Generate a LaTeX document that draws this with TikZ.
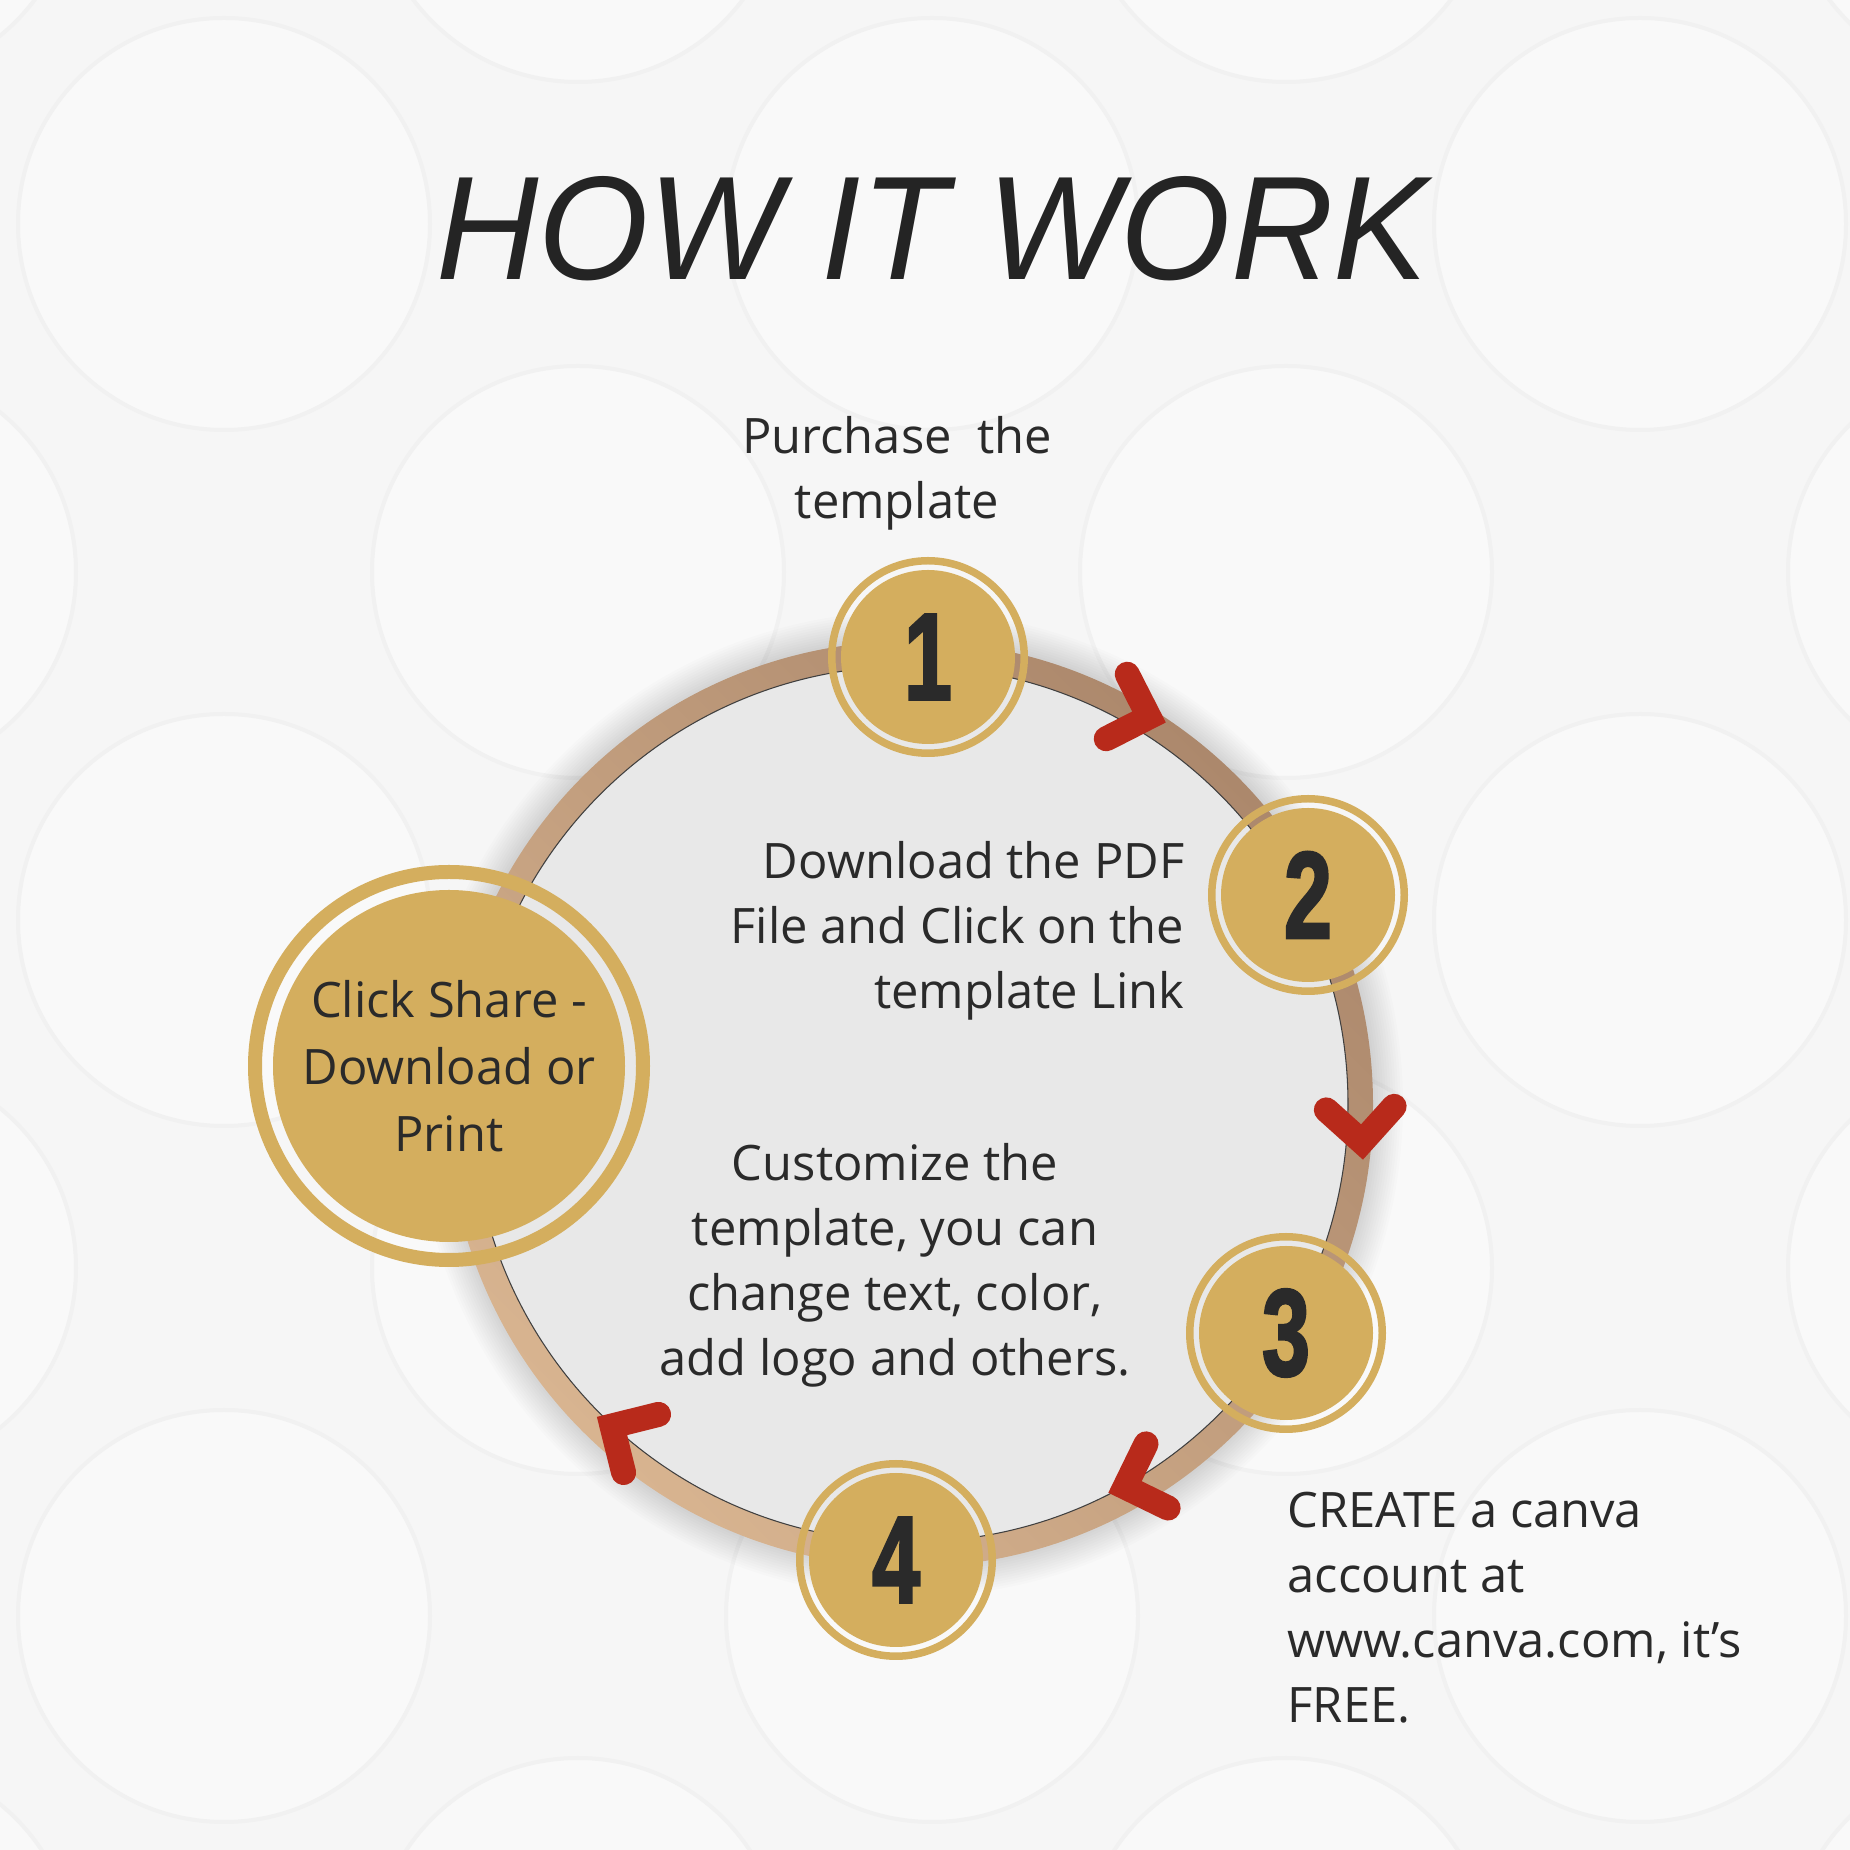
\documentclass[tikz,border=0pt]{standalone}
\usepackage{fontspec}
\setmainfont{Open Sans}
\newfontfamily\titlefont{Liberation Sans}
\newfontfamily\numfont{Liberation Sans Bold}[FakeBold=2.5]
\usepackage{graphicx}
\usetikzlibrary{calc, positioning}
\definecolor{gold1}{RGB}{212,174,94}
\definecolor{ring1}{RGB}{172,136,108}
\definecolor{ring2}{RGB}{216,180,144}
\definecolor{red1}{RGB}{184,42,27}
\definecolor{disk1}{RGB}{232,232,232}
\definecolor{ink1}{RGB}{42,42,42}
\definecolor{title1}{RGB}{36,36,36}
\definecolor{bg1}{RGB}{246,246,246}
\definecolor{bg2}{RGB}{249,249,249}
\definecolor{bg3}{RGB}{241,241,241}

\begin{document}
\begin{tikzpicture}[
    bgdimple/.style={fill=bg2, draw=bg3, line width=0.04cm},
    ringshadow/.style={black, opacity=0.012},
    chevron/.style={draw=red1, line width=0.25cm, line cap=round, line join=miter},
    stepdisk/.style={circle, fill=gold1, minimum size=1.74cm, inner sep=0pt, text=ink1, font=\numfont\fontsize{35}{35}\selectfont},
    stepband/.style={draw=gold1, line width=0.075cm},
    sharedisk/.style={circle, fill=gold1, minimum size=3.52cm, inner sep=0pt, align=center, text=ink1, font=\fontsize{13.9}{19}\selectfont},
    shareband/.style={draw=gold1, line width=0.14cm},
    bodytext/.style={inner sep=0pt, text=ink1, font=\fontsize{13.9}{18.5}\selectfont},
    titletext/.style={inner sep=0pt, text=title1, anchor=base, font=\titlefont\itshape\fontsize{42}{42}\selectfont}
]
        \useasboundingbox (0,0) rectangle (18.5,18.5);

        % background with soft dimples
        \begin{scope}
        \clip (0,0) rectangle (18.5,18.5);
        \fill[bg1] (0,0) rectangle (18.5,18.5);
        \foreach \y in {16.26, 9.30, 2.34}
            \foreach \x in {2.24, 9.32, 16.40}
                \filldraw[bgdimple] (\x,\y) circle (2.06);
        \foreach \y in {19.74, 12.78, 5.82, -1.14}
            \foreach \x in {-1.30, 5.78, 12.86, 19.94}
                \filldraw[bgdimple] (\x,\y) circle (2.06);
        \end{scope}

        \node[titletext, name=title] at(9.32,15.70) {\scalebox{0.96}[1]{HOW IT WORK}};

        % the ring
        \coordinate (ctr) at (9.10,7.46);
        \foreach \k in {1,...,12}
            \draw[ringshadow, line width=\k*0.05cm] (ctr) circle (4.63);
        \fill[disk1] (ctr) circle (4.40);
        \shade[even odd rule, top color=ring1, bottom color=ring2, shading angle=-45] (ctr) circle (4.63) (ctr) circle (4.38);
        \draw[gray!50!black, line width=0.3pt] (ctr) circle (4.38);

        \foreach \cx/\cy/\ang in {11.49/11.33/72, 13.62/7.08/3, 11.25/3.63/-71, 6.12/4.24/239}
            \draw[chevron] ($(\cx,\cy)+({\ang+45}:0.48)$) -- (\cx,\cy) -- ($(\cx,\cy)+({\ang+135}:0.48)$);

        % steps
        \node[stepdisk, name=one] at(9.28,11.93) {\scalebox{0.7}[1]{1}};
        \node[stepdisk, name=two] at(13.08,9.55) {\scalebox{0.7}[1]{2}};
        \node[stepdisk, name=three] at(12.86,5.17) {\scalebox{0.7}[1]{3}};
        \node[stepdisk, name=four] at(8.96,2.90) {\scalebox{0.7}[1]{4}};
        \foreach \s in {one, two, three, four}
            \draw[stepband] (\s) circle (0.9625);

        \node[sharedisk, name=share] at(4.49,7.84) {Click Share -\\Download or\\Print};
        \draw[shareband] (share) circle (1.94);

        \node[bodytext, anchor=base, align=center, name=purchase] at(8.97,13.31) {Purchase\ \ the\\template};
        \node[bodytext, anchor=base east, align=right, name=download] at(11.85,8.41) {Download the PDF\\File and Click on the\\template Link};
        \node[bodytext, anchor=base, align=center, name=customize] at(8.95,4.74) {Customize the\\template, you can\\change text, color,\\add logo and others.};
        \node[bodytext, anchor=base west, align=left, name=create] at(12.87,1.27) {CREATE a canva\\account at\\www.canva.com, it’s\\FREE.};
    \end{tikzpicture}
\end{document}
